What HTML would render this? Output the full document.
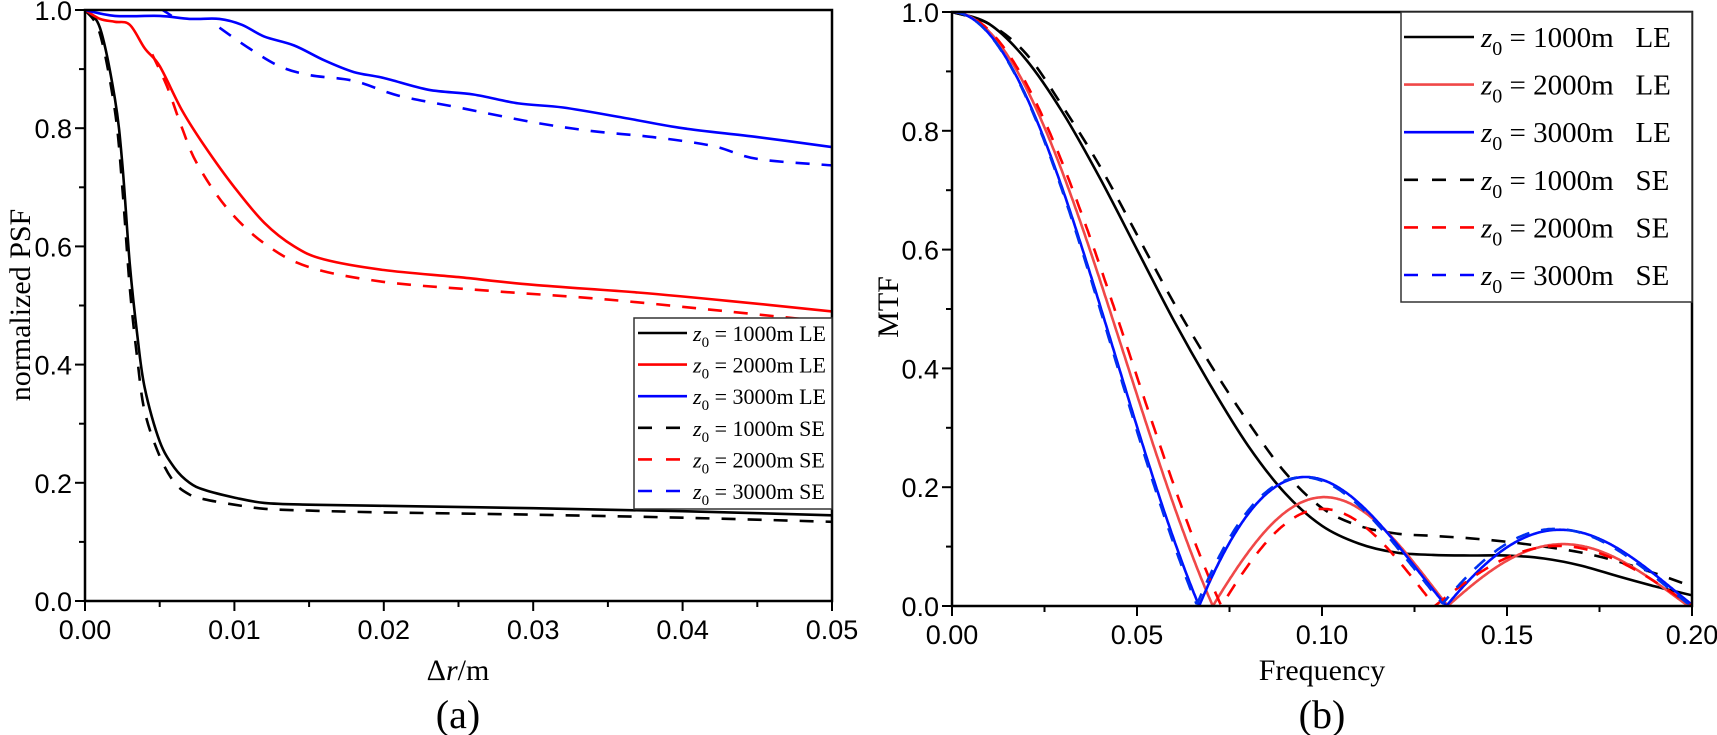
<!DOCTYPE html>
<html><head><meta charset="utf-8"><style>
html,body{margin:0;padding:0;background:#fff;width:1717px;height:735px;overflow:hidden}
svg{display:block}
.tk{font-family:"Liberation Sans",Arial,sans-serif;font-size:27px;fill:#000}
.lg{font-family:"Liberation Serif",serif;fill:#000}
</style></head><body>
<svg id="s" width="1717" height="735" xmlns="http://www.w3.org/2000/svg">
<rect width="1717" height="735" fill="#fff"/>
<g id="plots"></g>
<text class="lg" font-size="30" transform="translate(30,305) rotate(-90)" text-anchor="middle">normalized PSF</text>
<text class="lg" font-size="30" x="458" y="680" text-anchor="middle">Δ<tspan font-style="italic">r</tspan>/m</text>
<text class="lg" font-size="40" x="458" y="728" text-anchor="middle">(a)</text>
<text class="lg" font-size="30" transform="translate(898,307) rotate(-90)" text-anchor="middle">MTF</text>
<text class="lg" font-size="30" x="1322" y="680" text-anchor="middle">Frequency</text>
<text class="lg" font-size="40" x="1322" y="728" text-anchor="middle">(b)</text>
</svg>
<script>
var NS="http://www.w3.org/2000/svg",G=document.getElementById('plots');
function el(t,a,p){var e=document.createElementNS(NS,t);for(var k in a)e.setAttribute(k,a[k]);(p||G).appendChild(e);return e;}
function txt(x,y,s,cls,anc,fs){var e=el('text',{x:x,y:y,'class':cls,'text-anchor':anc||'start'});if(fs)e.setAttribute('font-size',fs);e.textContent=s;return e;}
function axes(P,xt,xl,yt,yl){
 var g=el('g',{});
 el('rect',{x:P.x0,y:P.y1,width:P.x1-P.x0,height:P.y0-P.y1,fill:'none',stroke:'#000','stroke-width':2.5},g);
 xt.forEach(function(v,i){var X=P.X(v);var maj=xl[i]!=null;el('line',{x1:X,x2:X,y1:P.y0,y2:P.y0+(maj?10:6),stroke:'#000','stroke-width':2},g);if(maj)txt(X,P.y0+38,xl[i],'tk','middle');});
 yt.forEach(function(v,i){var Y=P.Y(v);var maj=yl[i]!=null;el('line',{x1:P.x0,x2:P.x0-(maj?10:6),y1:Y,y2:Y,stroke:'#000','stroke-width':2},g);if(maj)txt(P.x0-13,Y+10,yl[i],'tk','end');});
}
function mkP(x0,x1,y0,y1,xmax){return {x0:x0,x1:x1,y0:y0,y1:y1,X:function(v){return x0+(x1-x0)*v/xmax},Y:function(v){return y0-(y0-y1)*v}};}
function cr(pts,P){var p=pts.map(function(a){return [P.X(a[0]),P.Y(a[1])]});var d='M'+p[0][0].toFixed(1)+','+p[0][1].toFixed(1);
 for(var i=0;i<p.length-1;i++){var a=p[i-1]||p[i],b=p[i],c=p[i+1],e=p[i+2]||c;
 d+=' C'+(b[0]+(c[0]-a[0])/6).toFixed(1)+','+(b[1]+(c[1]-a[1])/6).toFixed(1)+' '+(c[0]-(e[0]-b[0])/6).toFixed(1)+','+(c[1]-(e[1]-b[1])/6).toFixed(1)+' '+c[0].toFixed(1)+','+c[1].toFixed(1);}return d;}
function fn(f,P,xmax){var d='';for(var i=0;i<=600;i++){var x=xmax*i/600;d+=(i?'L':'M')+P.X(x).toFixed(1)+','+P.Y(f(x)).toFixed(1);}return d;}
function path(d,col,dash,clip){var a={d:d,fill:'none',stroke:col,'stroke-width':2.6,'stroke-linejoin':'round'};if(dash)a['stroke-dasharray']='14,12';if(clip)a['clip-path']=clip;el('path',a);}
var defs=el('defs',{});
var c1=el('clipPath',{id:'c1'},defs);el('rect',{x:85,y:10,width:747,height:591},c1);
var c2=el('clipPath',{id:'c2'},defs);el('rect',{x:952,y:12,width:740,height:594},c2);
var L=mkP(85,832,601,10,0.05);
var xt=[],xl=[];for(var i=0;i<=10;i++){xt.push(i*0.005);xl.push(i%2==0?(i*0.005).toFixed(2):null);}
var yt=[],yl=[];for(var i=0;i<=10;i++){yt.push(i/10);yl.push(i%2==0?(i/10).toFixed(1):null);}
path(cr([[0,1],[0.001,0.97],[0.002,0.85],[0.0025,0.74],[0.003,0.57],[0.0035,0.45],[0.004,0.36],[0.005,0.27],[0.006,0.225],[0.007,0.2],[0.008,0.188],[0.01,0.175],[0.012,0.166],[0.015,0.163],[0.02,0.161],[0.03,0.157],[0.04,0.152],[0.05,0.145]],L),'#000',false,'url(#c1)');
path(cr([[0,1],[0.001,0.96],[0.002,0.83],[0.0025,0.7],[0.003,0.53],[0.0035,0.41],[0.004,0.32],[0.005,0.245],[0.006,0.2],[0.007,0.18],[0.008,0.172],[0.01,0.163],[0.012,0.156],[0.015,0.153],[0.02,0.15],[0.03,0.146],[0.04,0.141],[0.05,0.134]],L),'#000',true,'url(#c1)');
path(cr([[0,1],[0.001,0.985],[0.002,0.98],[0.003,0.975],[0.004,0.935],[0.005,0.905],[0.0065,0.83],[0.008,0.77],[0.01,0.7],[0.012,0.64],[0.014,0.6],[0.016,0.578],[0.02,0.56],[0.025,0.548],[0.03,0.535],[0.037,0.522],[0.043,0.508],[0.05,0.49]],L),'#f00',false,'url(#c1)');
path(cr([[0.0045,0.925],[0.0055,0.87],[0.0065,0.8],[0.0075,0.74],[0.0095,0.665],[0.012,0.605],[0.015,0.565],[0.02,0.54],[0.027,0.525],[0.035,0.51],[0.043,0.49],[0.05,0.472]],L),'#f00',true,'url(#c1)');
path(cr([[0,1],[0.002,0.99],[0.005,0.99],[0.007,0.985],[0.009,0.985],[0.0105,0.975],[0.012,0.955],[0.014,0.94],[0.016,0.915],[0.018,0.895],[0.02,0.885],[0.023,0.865],[0.026,0.857],[0.029,0.842],[0.032,0.835],[0.036,0.818],[0.04,0.8],[0.045,0.785],[0.05,0.768]],L),'#00f',false,'url(#c1)');
path(cr([[0.0052,1.0],[0.0058,0.99]],L),'#00f',false,'url(#c1)');
path(cr([[0.009,0.97],[0.011,0.935],[0.013,0.905],[0.015,0.89],[0.018,0.88],[0.021,0.855],[0.025,0.835],[0.03,0.81],[0.034,0.795],[0.038,0.785],[0.042,0.77],[0.045,0.748],[0.05,0.737]],L),'#00f',true,'url(#c1)');
axes(L,xt,xl,yt,yl);
var lg=el('g',{});
el('rect',{x:634,y:318,width:198,height:191,fill:'#fff',stroke:'#333','stroke-width':1.5},lg);
var items=[['#000',0,'LE'],['#f00',0,'LE'],['#00f',0,'LE'],['#000',1,'SE'],['#f00',1,'SE'],['#00f',1,'SE']];
var zs=['1000','2000','3000','1000','2000','3000'];
items.forEach(function(it,i){var y=333+i*31.6;
 el('line',{x1:638,x2:687,y1:y,y2:y,stroke:it[0],'stroke-width':2.6,'stroke-dasharray':it[1]?'14,14':'none'},lg);
 var t=el('text',{x:693,y:y+8,'class':'lg','font-size':22},lg);
 t.innerHTML='<tspan font-style="italic">z</tspan><tspan font-size="15" dy="6">0</tspan><tspan dy="-6"> = '+zs[i]+'m '+it[2]+'</tspan>';});
var R=mkP(952,1692,606,12,0.2);
var xt2=[],xl2=[];for(var i=0;i<=8;i++){xt2.push(i*0.025);xl2.push(i%2==0?(i*0.025).toFixed(2):null);}
function sinc(x){return x==0?1:Math.sin(Math.PI*x)/(Math.PI*x);}
function sincMod(z1,z2,h2,z3,h3){return function(f){if(f<=z1)return Math.abs(sinc(f/z1));if(f<=z2){var t=(f-z1)/(z2-z1);return h2*Math.sin(Math.PI*t)*(1-0.25*(t-0.45));}var t=(f-z2)/(z3-z2);return h3*Math.sin(Math.PI*Math.min(t,1))*(1-0.2*(t-0.45));};}
var blueLE=function(f){return Math.abs(sinc(f/0.0668));};
var blueSE=function(f){var v=Math.abs(sinc(f/0.0663));return f<0.0663?v:0.98*v+0.004;};
var redLE=sincMod(0.0705,0.134,0.185,0.199,0.105);
var redSE=sincMod(0.0728,0.1305,0.165,0.2,0.102);
path(cr([[0,1],[0.01,0.98],[0.02,0.92],[0.03,0.83],[0.04,0.72],[0.05,0.6],[0.06,0.48],[0.07,0.37],[0.08,0.27],[0.09,0.19],[0.1,0.135],[0.11,0.105],[0.12,0.09],[0.13,0.086],[0.14,0.085],[0.15,0.085],[0.16,0.08],[0.17,0.068],[0.18,0.05],[0.19,0.033],[0.2,0.018]],R),'#000',false,'url(#c2)');
path(cr([[0,1],[0.01,0.98],[0.02,0.93],[0.03,0.84],[0.04,0.74],[0.05,0.625],[0.06,0.51],[0.07,0.405],[0.08,0.31],[0.09,0.225],[0.1,0.165],[0.11,0.135],[0.12,0.122],[0.13,0.118],[0.14,0.114],[0.15,0.108],[0.16,0.1],[0.17,0.09],[0.18,0.075],[0.19,0.055],[0.2,0.033]],R),'#000',true,'url(#c2)');
path(fn(redLE,R,0.2),'#f04848',false,'url(#c2)');
path(fn(blueLE,R,0.2),'#0010ff',false,'url(#c2)');
path(fn(redSE,R,0.2),'#f00',true,'url(#c2)');
path(fn(blueSE,R,0.2),'#0030f0',true,'url(#c2)');
axes(R,xt2,xl2,yt,yl);
var lg2=el('g',{});
el('rect',{x:1401,y:12,width:291,height:290,fill:'#fff',stroke:'#333','stroke-width':1.5},lg2);
var cols2=['#000','#f04848','#00f','#000','#f00','#00f'];
items.forEach(function(it,i){var y=37+i*47.6;
 el('line',{x1:1404,x2:1474,y1:y,y2:y,stroke:cols2[i],'stroke-width':2.6,'stroke-dasharray':it[1]?'14,14':'none'},lg2);
 var t=el('text',{x:1481,y:y+10,'class':'lg','font-size':29},lg2);
 t.innerHTML='<tspan font-style="italic">z</tspan><tspan font-size="20" dy="8">0</tspan><tspan dy="-8"> = '+zs[i]+'m\u00a0\u00a0\u00a0'+it[2]+'</tspan>';});
</script>
</body></html>
